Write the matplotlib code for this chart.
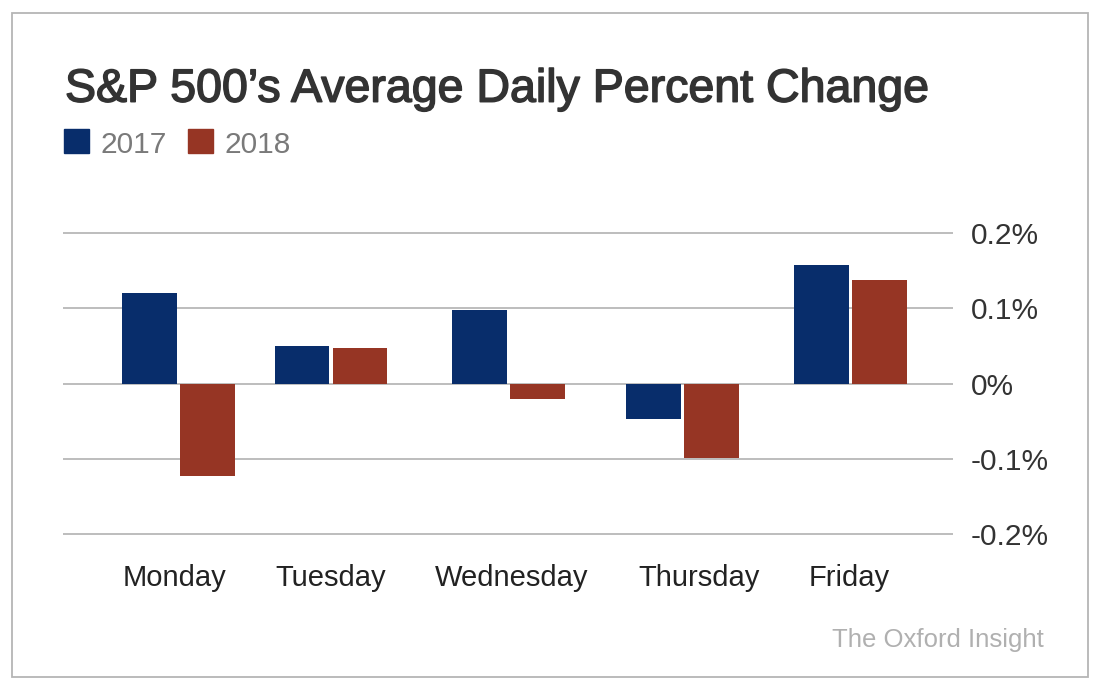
import numpy as np
import matplotlib
matplotlib.use("Agg")
import matplotlib.pyplot as plt
import matplotlib.patheffects as pe
from matplotlib.patches import Rectangle

plt.rcParams['font.family'] = ['Liberation Sans', 'DejaVu Sans']

# data
days = ['Monday', 'Tuesday', 'Wednesday', 'Thursday', 'Friday']
years = ['2017', '2018']
pct_2017 = [0.121, 0.050, 0.098, -0.047, 0.157]
pct_2018 = [-0.123, 0.048, -0.021, -0.099, 0.138]

# group centres and label centres (in category units, slightly uneven like the original)
group_pos = [0.0, 0.898, 1.941, 2.965, 3.953]
label_pos = [-0.025, 0.898, 1.959, 3.063, 3.947]

navy = '#082d6b'
rust = '#963524'
bar_w = 0.322
off = 0.171

fig = plt.figure(figsize=(11, 6.9), dpi=100)
W, H = 1100, 690

# light frame around the graphic
fig.add_artist(Rectangle((12 / W, 13 / H), 1076 / W, 664 / H, transform=fig.transFigure,
                         fill=False, edgecolor='#b5b5b5', linewidth=1.3))

ax = fig.add_axes([63 / W, 148.2 / H, 889.7 / W, 316.3 / H])
x = np.array(group_pos)
ax.bar(x - off, pct_2017, width=bar_w, color=navy, zorder=3)
ax.bar(x + off, pct_2018, width=bar_w, color=rust, zorder=3)

ax.set_xlim(-0.678, 4.555)
ax.set_ylim(-0.21, 0.21)
ax.set_yticks([0.2, 0.1, 0.0, -0.1, -0.2])
ax.set_yticklabels(['0.2%', '0.1%', '0%', '-0.1%', '-0.2%'])
ax.yaxis.tick_right()
ax.tick_params(axis='y', length=0, pad=13, labelsize=21.5, labelcolor='#333333')
ax.set_xticks(label_pos)
ax.set_xticklabels(days)
ax.tick_params(axis='x', length=0, pad=16, labelsize=21, labelcolor='#222222')
ax.grid(axis='y', color='#bdbdbd', linewidth=1.4, zorder=0)
for s in ax.spines.values():
    s.set_visible(False)

# title and legend
fig.text(65 / W, 1 - 101.7 / H, "S\u0026P 500\u2019s Average Daily Percent Change",
         fontsize=33.5, color='#333333', va='baseline', ha='left',
         path_effects=[pe.withStroke(linewidth=1.1, foreground='#333333')])
legend_x = [64.3, 188.3]
for yr, col, lx in zip(years, [navy, rust], legend_x):
    fig.add_artist(Rectangle((lx / W, 1 - 153.3 / H), 24.5 / W, 24.3 / H,
                             transform=fig.transFigure, color=col))
    fig.text((lx + 36) / W, 1 - 153.3 / H, yr, fontsize=21.5, color='#7a7a7a',
             va='baseline', ha='left')

fig.text(1044 / W, 1 - 647 / H, 'The Oxford Insight', fontsize=18.5, color='#b0b0b0',
         va='baseline', ha='right')

fig.savefig('out.png', dpi=100, facecolor='white')
